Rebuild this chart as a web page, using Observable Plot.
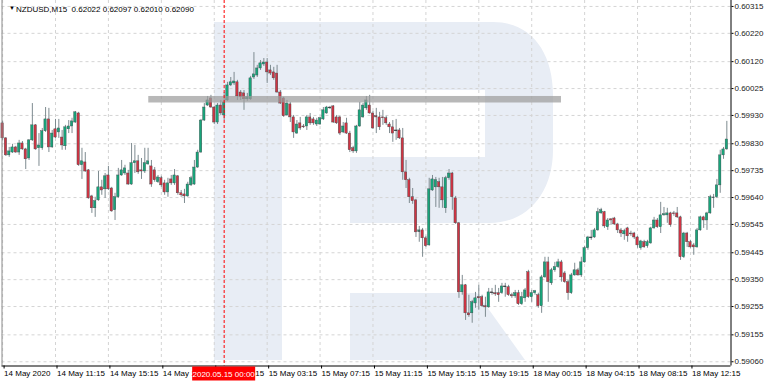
<!DOCTYPE html>
<html><head><meta charset="utf-8">
<script src="https://cdn.jsdelivr.net/npm/d3@7"></script>
<script src="https://cdn.jsdelivr.net/npm/@observablehq/plot@0.6"></script>
<style>body{margin:0;background:#fff}svg{display:block}</style>
</head><body><div id="chart"></div>
<script>
// ---- data (M15 candles, bar index 0 = 14 May 07:15) ----
const open = [.59902,.59849,.59789,.59799,.59817,.59799,.59831,.59810,.59778,.59842,
.59895,.59814,.59814,.59874,.59916,.59817,.59881,.59870,.59852,.59821,
.59881,.59891,.59905,.59937,.59754,.59764,.59736,.59644,.59602,.59630,
.59676,.59669,.59718,.59672,.59595,.59641,.59718,.59725,.59725,.59686,
.59761,.59768,.59736,.59732,.59757,.59750,.59736,.59694,.59708,.59690,
.59658,.59704,.59690,.59715,.59655,.59651,.59644,.59683,.59686,.59746,
.59799,.59912,.59965,.59990,.59958,.59905,.59965,.59930,.59983,.60036,
.60043,.60047,.60011,.60008,.59987,.59987,.60064,.60071,.60096,.60110,
.60117,.60089,.60082,.60078,.60011,.59990,.59930,.59969,.59923,.59866,
.59902,.59891,.59891,.59923,.59916,.59898,.59898,.59916,.59937,.59958,
.59962,.59923,.59923,.59870,.59902,.59866,.59814,.59803,.59891,.59923,
.59955,.59965,.59937,.59927,.59923,.59923,.59920,.59898,.59888,.59877,
.59877,.59849,.59729,.59701,.59641,.59630,.59521,.59524,.59496,.59471,
.59665,.59676,.59694,.59676,.59602,.59708,.59725,.59637,.59549,.59305,
.59330,.59231,.59231,.59266,.59288,.59288,.59256,.59252,.59305,.59302,
.59302,.59302,.59326,.59323,.59295,.59291,.59302,.59263,.59284,.59376,
.59288,.59302,.59295,.59256,.59358,.59411,.59337,.59383,.59394,.59411,
.59372,.59341,.59302,.59365,.59383,.59365,.59411,.59461,.59499,.59499,
.59524,.59584,.59588,.59535,.59563,.59566,.59545,.59524,.59510,.59531,
.59513,.59513,.59499,.59461,.59482,.59468,.59478,.59531,.59559,.59535,
.59577,.59577,.59584,.59584,.59584,.59570,.59429,.59513,.59482,.59471,
.59464,.59524,.59570,.59559,.59584,.59641,.59641,.59683,.59789,.59810];
const high = [.59909,.59852,.59817,.59828,.59821,.59842,.59838,.59814,.59845,.59972,
.59898,.59866,.59884,.59958,.59955,.59877,.59916,.59916,.59877,.59895,
.59912,.59920,.59944,.59941,.59814,.59799,.59739,.59648,.59641,.59732,
.59701,.59725,.59750,.59676,.59655,.59743,.59771,.59754,.59736,.59831,
.59824,.59789,.59778,.59814,.59814,.59771,.59746,.59718,.59715,.59701,
.59708,.59718,.59739,.59718,.59665,.59669,.59694,.59715,.59771,.59807,
.59916,.59972,.59997,.60001,.59962,.59972,.59983,.60011,.60047,.60064,
.60082,.60054,.60018,.60018,.60008,.60068,.60152,.60107,.60124,.60131,
.60131,.60107,.60100,.60107,.60018,.59994,.59983,.59976,.59930,.59912,
.59923,.59898,.59930,.59937,.59923,.59920,.59923,.59958,.59962,.59962,
.59965,.59930,.59927,.59905,.59920,.59874,.59821,.59895,.59976,.59972,
.59997,.60001,.59944,.59955,.59941,.59948,.59927,.59905,.59912,.59916,
.59884,.59884,.59771,.59708,.59672,.59634,.59538,.59531,.59503,.59708,
.59718,.59711,.59708,.59711,.59715,.59739,.59729,.59644,.59552,.59365,
.59333,.59295,.59277,.59305,.59330,.59295,.59288,.59319,.59319,.59330,
.59319,.59337,.59337,.59330,.59302,.59312,.59312,.59305,.59319,.59383,
.59312,.59312,.59302,.59365,.59429,.59429,.59390,.59411,.59422,.59418,
.59379,.59348,.59372,.59408,.59390,.59429,.59468,.59503,.59524,.59531,
.59602,.59602,.59591,.59566,.59566,.59570,.59549,.59531,.59528,.59535,
.59521,.59517,.59503,.59489,.59489,.59489,.59535,.59570,.59566,.59623,
.59605,.59602,.59588,.59591,.59605,.59574,.59517,.59517,.59489,.59478,
.59531,.59574,.59574,.59588,.59648,.59651,.59704,.59807,.59817,.59909];
const low = [.59842,.59785,.59782,.59796,.59796,.59789,.59807,.59739,.59771,.59838,
.59807,.59750,.59807,.59870,.59799,.59814,.59849,.59849,.59807,.59807,
.59866,.59866,.59902,.59750,.59704,.59729,.59634,.59584,.59570,.59627,
.59648,.59637,.59665,.59588,.59559,.59637,.59715,.59718,.59683,.59683,
.59725,.59722,.59704,.59725,.59754,.59676,.59694,.59690,.59676,.59648,
.59641,.59683,.59683,.59648,.59641,.59619,.59641,.59679,.59683,.59743,
.59796,.59909,.59962,.59955,.59898,.59898,.59930,.59912,.59980,.60032,
.60036,.59983,.59983,.59948,.59980,.59983,.60057,.60064,.60089,.60103,
.60043,.60071,.60054,.60008,.59969,.59923,.59927,.59905,.59849,.59863,
.59877,.59884,.59877,.59895,.59895,.59891,.59895,.59912,.59934,.59951,
.59902,.59898,.59859,.59866,.59863,.59799,.59796,.59796,.59888,.59920,
.59948,.59934,.59881,.59866,.59877,.59895,.59895,.59866,.59835,.59842,
.59845,.59701,.59672,.59619,.59616,.59499,.59482,.59429,.59464,.59468,
.59662,.59605,.59602,.59602,.59584,.59701,.59595,.59545,.59284,.59295,
.59206,.59217,.59196,.59249,.59242,.59252,.59217,.59249,.59295,.59291,
.59270,.59298,.59288,.59291,.59284,.59284,.59259,.59259,.59270,.59284,
.59270,.59295,.59249,.59231,.59355,.59270,.59330,.59376,.59390,.59341,
.59337,.59277,.59298,.59362,.59362,.59358,.59408,.59454,.59489,.59496,
.59521,.59581,.59531,.59524,.59542,.59542,.59513,.59499,.59489,.59482,
.59503,.59492,.59461,.59454,.59461,.59461,.59475,.59528,.59531,.59513,
.59574,.59549,.59535,.59574,.59566,.59418,.59425,.59464,.59461,.59436,
.59461,.59521,.59531,.59524,.59581,.59602,.59637,.59655,.59775,.59807];
const close = [.59849,.59789,.59803,.59817,.59799,.59831,.59810,.59775,.59842,.59895,
.59810,.59824,.59874,.59916,.59817,.59866,.59852,.59884,.59824,.59888,
.59891,.59909,.59941,.59754,.59768,.59732,.59637,.59602,.59627,.59676,
.59665,.59715,.59669,.59591,.59641,.59718,.59736,.59743,.59686,.59761,
.59768,.59729,.59732,.59761,.59768,.59686,.59701,.59711,.59683,.59658,
.59690,.59690,.59718,.59655,.59648,.59644,.59686,.59708,.59746,.59799,
.59912,.59958,.59983,.59958,.59905,.59965,.59937,.59976,.60036,.60047,
.60050,.59997,.59994,.59987,.59994,.60061,.60075,.60096,.60114,.60117,
.60082,.60078,.60061,.60011,.59972,.59927,.59972,.59923,.59870,.59898,
.59884,.59888,.59923,.59902,.59902,.59912,.59920,.59948,.59958,.59955,
.59905,.59902,.59866,.59891,.59866,.59807,.59803,.59891,.59948,.59965,
.59983,.59937,.59884,.59923,.59888,.59920,.59902,.59888,.59866,.59874,
.59849,.59729,.59701,.59641,.59627,.59517,.59524,.59496,.59468,.59669,
.59704,.59701,.59676,.59630,.59708,.59725,.59641,.59549,.59305,.59330,
.59231,.59224,.59270,.59284,.59284,.59256,.59252,.59305,.59302,.59298,
.59295,.59326,.59323,.59295,.59291,.59302,.59263,.59288,.59312,.59288,
.59302,.59309,.59256,.59358,.59411,.59341,.59383,.59394,.59411,.59358,
.59341,.59302,.59365,.59383,.59365,.59411,.59461,.59499,.59496,.59524,
.59588,.59595,.59538,.59559,.59559,.59545,.59524,.59513,.59521,.59503,
.59510,.59499,.59471,.59485,.59464,.59482,.59531,.59559,.59535,.59577,
.59581,.59584,.59542,.59581,.59570,.59429,.59513,.59482,.59464,.59464,
.59524,.59570,.59559,.59584,.59641,.59641,.59683,.59789,.59810,.59845];

const xTickBars = [0,16,32,48,64,80,96,112,128,144,160,176,192,208];
const xTickLabels = ["14 May 2020","14 May 11:15","14 May 15:15","14 May 19:15","14 May 23:15",
  "15 May 03:15","15 May 07:15","15 May 11:15","15 May 15:15","15 May 19:15",
  "18 May 00:15","18 May 04:15","18 May 08:15","18 May 12:15"];
const yTickValues = [0.60315,0.60220,0.60120,0.60025,0.59930,0.59830,0.59735,0.59640,0.59545,0.59445,0.59350,0.59255,0.59155,0.59060];

const bandBars = [44.2, 169.0];          // grey level zone, bar range
const bandPrices = [0.59974, 0.59997];   // grey level zone, price range
const markerBar = 67;                    // 2020.05.15 00:00
const markerLabel = "2020.05.15 00:00";
const headerText = "NZDUSD,M15  0.62022 0.62097 0.62010 0.62090";

// ---- layout / style ----
const W = 768, H = 383;
const xDomain = [-0.18, 220.26];
const yDomain = [0.59045, 0.60336];
const GREEN = "#18a57a", RED = "#cf3443", WICK = "#7e8b90", EDGE = "#3a4a4c";
const FONT = "'Liberation Sans', Arial, sans-serif";

const data = open.map((o, i) => ({i, o, h: high[i], l: low[i], c: close[i], up: close[i] >= o}));
const doji = data.filter(d => Math.abs(d.o - d.c) < 0.00003);

const plot = Plot.plot({
  width: W, height: H,
  marginLeft: 1.5, marginRight: 37.5, marginTop: 0, marginBottom: 17.5,
  style: {fontFamily: FONT, fontSize: "8px", background: "#fff", color: "#000", overflow: "visible"},
  x: {type: "linear", domain: xDomain},
  y: {type: "linear", domain: yDomain},
  marks: [
    Plot.ruleX(xTickBars, {stroke: "#d4d4d4", strokeDasharray: "3,3"}),
    Plot.ruleY(yTickValues, {stroke: "#d4d4d4", strokeDasharray: "3,3"}),
    Plot.ruleX(data, {x: "i", y1: "l", y2: "h", stroke: WICK, strokeWidth: 1}),
    Plot.rect(data, {x1: d => d.i - 0.36, x2: d => d.i + 0.36, y1: "o", y2: "c",
      fill: d => d.up ? GREEN : RED, stroke: EDGE, strokeWidth: 0.4}),
    Plot.ruleY(doji, {x1: d => d.i - 0.42, x2: d => d.i + 0.42, y: "o", stroke: EDGE, strokeWidth: 1}),
    Plot.rect([0], {x1: bandBars[0], x2: bandBars[1], y1: bandPrices[0], y2: bandPrices[1],
      fill: "#9c9c9c", fillOpacity: 0.72}),
    Plot.ruleX([markerBar], {stroke: "#ff0000", strokeDasharray: "3,2", strokeWidth: 1}),
    Plot.ruleX([xDomain[0]], {stroke: "#8a8a8a"}),
    Plot.ruleY([yDomain[0]], {stroke: "#000"}),
    Plot.ruleX([xDomain[1]], {stroke: "#000"}),
    Plot.axisX(xTickBars, {anchor: "bottom", label: null, tickSize: 3, tickPadding: 1.5,
      tickFormat: d => xTickLabels[xTickBars.indexOf(d)], textAnchor: "start", dx: 1.5,
      fill: "#000", stroke: "#000", fontSize: 8}),
    Plot.axisY(yTickValues, {anchor: "right", label: null, tickSize: 2, tickPadding: 1.5,
      tickFormat: d => d.toFixed(5), fill: "#222", stroke: "#000", fontSize: 8}),
    Plot.text(["\u25BC"], {frameAnchor: "top-left", dx: 7, dy: 8, lineAnchor: "middle",
      textAnchor: "start", fill: "#000", fontSize: 6}),
    Plot.text([headerText], {frameAnchor: "top-left", dx: 14, dy: 8.5, lineAnchor: "middle",
      textAnchor: "start", fill: "#000", fontSize: 8})
  ]
});

// ---- watermark logo (decoration, pixel geometry) behind everything ----
const svg = d3.select(plot);
const LOGO_PATHS = [
  "M214,22H282V360H214Z",
  "M282,22H493C531,22 553,52 553,95V150C553,192 528,223 490,223H350V157H485V90H282Z",
  "M350,293H477L525,360H350Z"
];
const logo = svg.insert("g", "g");
LOGO_PATHS.forEach(p => logo.append("path").attr("d", p).attr("fill", "#e8edf5"));

// ---- red time marker label on the axis ----
const xs = plot.scale("x").apply(markerBar);
svg.append("rect").attr("x", xs - 31.5).attr("y", 366.5).attr("width", 63).attr("height", 14)
  .attr("fill", "#ff0000");
svg.append("text").attr("x", xs).attr("y", 376.5).attr("text-anchor", "middle")
  .attr("fill", "#fff").attr("font-size", 8).attr("font-family", FONT).text(markerLabel);

document.getElementById("chart").appendChild(plot);
</script>
</body></html>
